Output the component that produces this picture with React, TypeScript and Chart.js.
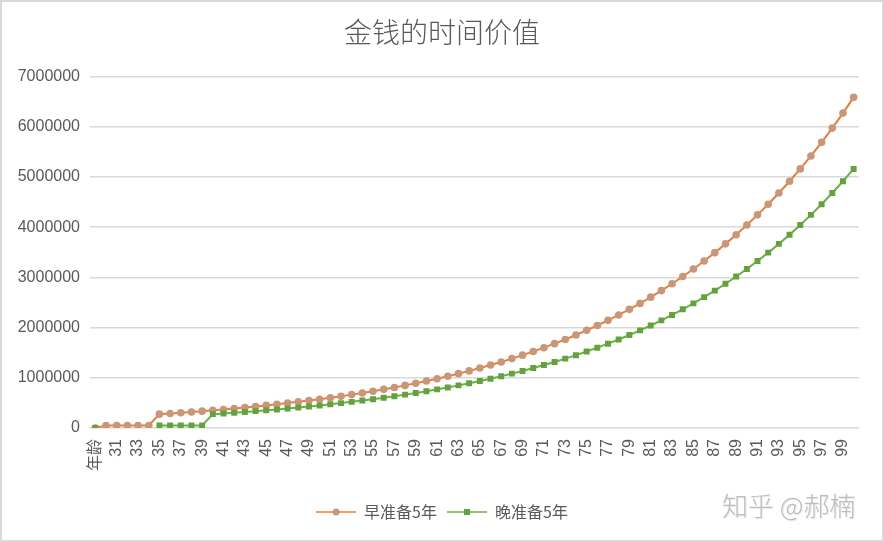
import React, { useEffect, useRef } from "react";
import { Chart, registerables } from "chart.js";

Chart.register(...registerables);

const chartTitle = "金钱的时间价值";

const categories = [
  "年龄", "30", "31", "32", "33", "34", "35", "36", "37", "38", "39",
  "40", "41", "42", "43", "44", "45", "46", "47", "48", "49",
  "50", "51", "52", "53", "54", "55", "56", "57", "58", "59",
  "60", "61", "62", "63", "64", "65", "66", "67", "68", "69",
  "70", "71", "72", "73", "74", "75", "76", "77", "78", "79",
  "80", "81", "82", "83", "84", "85", "86", "87", "88", "89",
  "90", "91", "92", "93", "94", "95", "96", "97", "98", "99", "100",
];

const earlyLabel = "早准备5年";
const earlyValues = [
  0, 50000, 50000, 50000, 50000, 50000,
  276000, 290000, 305000, 320000, 336000,
  353000, 370000, 389000, 408000, 429000, 450000, 473000, 496000, 521000, 547000,
  574000, 603000, 633000, 665000, 698000, 733000, 770000, 808000, 849000, 891000,
  936000, 982000, 1031000, 1083000, 1137000, 1194000, 1254000, 1316000, 1382000, 1451000,
  1524000, 1600000, 1680000, 1764000, 1852000, 1945000, 2042000, 2144000, 2252000, 2364000,
  2482000, 2607000, 2737000, 2874000, 3017000, 3168000, 3327000, 3493000, 3668000, 3851000,
  4044000, 4246000, 4458000, 4681000, 4915000, 5161000, 5419000, 5690000, 5974000, 6273000, 6587000,
];

const lateLabel = "晚准备5年";
const lateValues = [
  0, null, null, null, null, null,
  50000, 50000, 50000, 50000, 50000,
  276000, 290000, 305000, 320000, 336000, 353000, 370000, 389000, 408000, 429000,
  450000, 473000, 496000, 521000, 547000, 574000, 603000, 633000, 665000, 698000,
  733000, 770000, 808000, 849000, 891000, 936000, 982000, 1031000, 1083000, 1137000,
  1194000, 1254000, 1316000, 1382000, 1451000, 1524000, 1600000, 1680000, 1764000, 1852000,
  1945000, 2042000, 2144000, 2252000, 2364000, 2482000, 2607000, 2737000, 2874000, 3017000,
  3168000, 3327000, 3493000, 3668000, 3851000, 4044000, 4246000, 4458000, 4681000, 4915000, 5161000,
];

const yMin = 0;
const yMax = 7000000;
const yStep = 1000000;

const watermark = "知乎 @郝楠";

const ORANGE_LINE = "#ED7D31";
const ORANGE_MARK = "#C9967A";
const GREEN_LINE = "#70AD47";
const GREEN_MARK = "#62A33D";
const TEXT = "#595959";
const GRID = "#d9d9d9";

function makeLegendIcon(lineColor: string, markColor: string, square: boolean) {
  const c = document.createElement("canvas");
  c.width = 40;
  c.height = 10;
  const ctx = c.getContext("2d")!;
  ctx.strokeStyle = lineColor;
  ctx.globalAlpha = 0.75;
  ctx.lineWidth = 2;
  ctx.beginPath();
  ctx.moveTo(0, 5);
  ctx.lineTo(40, 5);
  ctx.stroke();
  ctx.globalAlpha = 1;
  ctx.fillStyle = markColor;
  if (square) {
    ctx.fillRect(17, 2, 6, 6);
  } else {
    ctx.beginPath();
    ctx.arc(20, 5, 3.5, 0, Math.PI * 2);
    ctx.fill();
  }
  return c;
}

export default function App() {
  const canvasRef = useRef<HTMLCanvasElement | null>(null);

  useEffect(() => {
    document.body.style.margin = "0";
    const canvas = canvasRef.current;
    if (!canvas) return;
    const icons = [
      makeLegendIcon(ORANGE_LINE, ORANGE_MARK, false),
      makeLegendIcon(GREEN_LINE, GREEN_MARK, true),
    ];
    const sansFamily = '"Liberation Sans", "Noto Sans CJK SC", sans-serif';
    const cjkFamily = '"Noto Sans CJK SC", "Liberation Sans", sans-serif';

    const chart = new Chart(canvas, {
      type: "line",
      data: {
        labels: categories,
        datasets: [
          {
            label: earlyLabel,
            data: earlyValues,
            order: 1,
            borderColor: ORANGE_LINE,
            backgroundColor: ORANGE_MARK,
            pointBackgroundColor: ORANGE_MARK,
            pointBorderColor: ORANGE_MARK,
            pointStyle: "circle",
            pointRadius: 3.8,
            pointBorderWidth: 0,
            borderWidth: 2,
            tension: 0,
            spanGaps: false,
          },
          {
            label: lateLabel,
            data: lateValues,
            order: 0,
            borderColor: GREEN_LINE,
            backgroundColor: GREEN_MARK,
            pointBackgroundColor: GREEN_MARK,
            pointBorderColor: GREEN_MARK,
            pointStyle: "rect",
            pointRadius: 4.2,
            pointBorderWidth: 0,
            borderWidth: 2,
            tension: 0,
            spanGaps: false,
          },
        ],
      },
      options: {
        animation: false,
        responsive: false,
        maintainAspectRatio: false,
        layout: { padding: { left: 0, right: 0, top: 0, bottom: 12 } },
        plugins: {
          title: {
            display: true,
            text: chartTitle,
            color: TEXT,
            font: { family: cjkFamily, size: 28, weight: "300", lineHeight: 1.2 },
            padding: { top: 16, bottom: 27 },
          },
          legend: {
            display: true,
            position: "bottom",
            labels: {
              color: TEXT,
              font: { family: cjkFamily, size: 16 },
              usePointStyle: true,
              pointStyleWidth: 40,
              padding: 10,
              generateLabels: (ch: any) => {
                const items = Chart.defaults.plugins.legend.labels.generateLabels(ch);
                items.sort((a: any, b: any) => a.datasetIndex - b.datasetIndex);
                items.forEach((it: any) => {
                  it.pointStyle = icons[it.datasetIndex];
                });
                return items;
              },
            },
          },
          tooltip: { enabled: false },
        },
        scales: {
          x: {
            type: "category",
            offset: true,
            grid: { display: false, drawTicks: false },
            border: { display: false },
            ticks: {
              autoSkip: false,
              maxRotation: 90,
              minRotation: 90,
              padding: 11,
              color: TEXT,
              font: { family: sansFamily, size: 16 },
              callback: (_v: any, idx: number) => (idx % 2 === 0 ? categories[idx] : ""),
            },
            afterFit: (scale: any) => {
              scale.height = 66;
            },
          },
          y: {
            min: yMin,
            max: yMax,
            grid: { color: GRID, lineWidth: 1.5, drawTicks: false },
            border: { display: false },
            ticks: {
              stepSize: yStep,
              padding: 10,
              color: TEXT,
              font: { family: sansFamily, size: 16 },
              callback: (v: any) => String(v),
            },
            afterFit: (scale: any) => {
              scale.width = 90;
            },
          },
          yRight: {
            type: "linear",
            position: "right",
            display: true,
            min: yMin,
            max: yMax,
            grid: { display: false, drawTicks: false },
            border: { display: false },
            ticks: { display: false },
            afterFit: (scale: any) => {
              scale.width = 23;
            },
          },
        },
      },
    });
    return () => chart.destroy();
  }, []);

  return (
    <div style={{ position: "fixed", left: 0, top: 0, width: 884, height: 542, background: "#fff" }}>
      <canvas ref={canvasRef} width={884} height={542} style={{ display: "block", width: 884, height: 542 }} />
      <div
        style={{
          position: "absolute",
          left: 722,
          top: 488,
          fontFamily: '"Noto Sans CJK SC", sans-serif',
          fontSize: 26,
          fontWeight: 300,
          lineHeight: "34px",
          color: "#bdbdbd",
          whiteSpace: "nowrap",
          textShadow: "1px 1px 0 #ececec",
        }}
      >
        {watermark}
      </div>
      <div
        style={{
          position: "absolute",
          left: 0,
          top: 0,
          width: 884,
          height: 542,
          boxSizing: "border-box",
          border: "2px solid #d9d9d9",
          pointerEvents: "none",
        }}
      />
    </div>
  );
}
